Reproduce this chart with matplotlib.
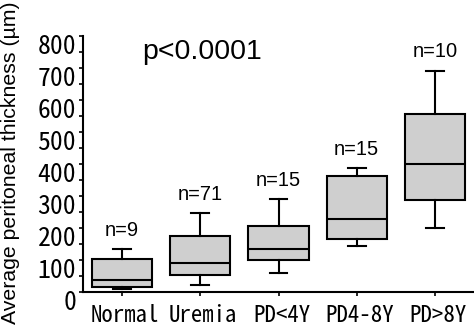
import matplotlib
matplotlib.use("Agg")
import matplotlib.pyplot as plt
from matplotlib.transforms import ScaledTranslation
from matplotlib.ticker import MultipleLocator

categories = ["Normal", "Uremia", "PD<4Y", "PD4-8Y", "PD>8Y"]
counts = ["n=9", "n=71", "n=15", "n=15", "n=10"]
whisker_low = [10, 22, 60, 144, 199]
q1 = [15, 53, 100, 167, 288]
median = [37, 90, 134, 228, 400]
q3 = [102, 175, 207, 362, 555]
whisker_high = [133, 246, 290, 386, 692]
yticks = [0, 100, 200, 300, 400, 500, 600, 700, 800]
p_text = "p<0.0001"
ylabel = "Average peritoneal thickness (\u00b5m)"

tick_fonts = ["Noto Sans Mono CJK JP", "Noto Sans CJK JP", "DejaVu Sans"]
text_fonts = ["Liberation Sans", "DejaVu Sans"]

W, H, DPI = 474, 329, 100
fig = plt.figure(figsize=(W / DPI, H / DPI), dpi=DPI)
ax = fig.add_axes([83 / W, (H - 292) / H, 391 / W, 256 / H])

stats = []
for i, c in enumerate(categories):
    stats.append(dict(label=c, whislo=whisker_low[i], q1=q1[i], med=median[i],
                      q3=q3[i], whishi=whisker_high[i], fliers=[]))

lw = 1.5
ax.bxp(stats, positions=range(len(categories)), widths=0.77, capwidths=0.23,
       patch_artist=True, showfliers=False,
       boxprops=dict(facecolor="#cfcfcf", edgecolor="black", linewidth=lw),
       medianprops=dict(color="black", linewidth=lw),
       whiskerprops=dict(color="black", linewidth=lw),
       capprops=dict(color="black", linewidth=lw))

ax.set_xlim(-0.5, 4.5)
ax.set_ylim(0, 800)
ax.yaxis.set_minor_locator(MultipleLocator(50))
for s in ["top", "right"]:
    ax.spines[s].set_visible(False)
for s in ["left", "bottom"]:
    ax.spines[s].set_linewidth(1.5)
ax.tick_params(axis="y", which="both", direction="out", length=3, width=1.2, pad=2)
ax.tick_params(axis="x", direction="out", length=3, width=1.2, pad=6)

ax.set_xticks(range(len(categories)))
ax.set_xticklabels(categories, family=tick_fonts, fontsize=16.5)
xoff = ScaledTranslation(3 / DPI, 0, fig.dpi_scale_trans)
for lab in ax.get_xticklabels():
    lab.set_transform(lab.get_transform() + xoff)
ax.set_yticks(yticks)
ax.set_yticklabels([str(v) for v in yticks], family=tick_fonts, fontsize=18.5)
yoff = ScaledTranslation(0, -8 / DPI, fig.dpi_scale_trans)
for lab in ax.get_yticklabels():
    lab.set_transform(lab.get_transform() + yoff)

for i, t in enumerate(counts):
    ax.annotate(t, xy=(i, whisker_high[i]), xytext=(0, 13.5), textcoords="offset points",
                ha="center", va="center", fontsize=14.5, family=text_fonts)

fig.text(202 / W, (H - 52) / H, p_text, ha="center", va="center", fontsize=20.5,
         family=text_fonts)
fig.text(1 / W, (H - 324) / H, ylabel, rotation=90, ha="left", va="bottom",
         fontsize=15.3, family=text_fonts)

fig.savefig("out.png", dpi=DPI)
